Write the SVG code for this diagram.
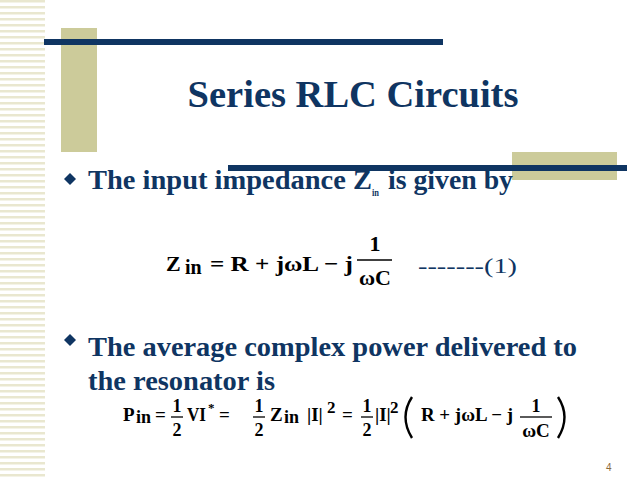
<svg xmlns="http://www.w3.org/2000/svg" width="638" height="479" viewBox="0 0 638 479">
<defs>
<pattern id="st" width="40" height="6" patternUnits="userSpaceOnUse"><rect width="40" height="6" fill="#ffffff"/><rect y="0" width="40" height="2.5" fill="#e9e7cf"/></pattern>
<style>
.t{font-family:"Liberation Serif",serif;font-weight:bold;fill:#0f3562}
.m{font-family:"Liberation Serif",serif;font-weight:bold;fill:#000}
.n{font-family:"Liberation Serif",serif;fill:#0f3562}
</style>
</defs>
<rect width="638" height="479" fill="#fff"/>
<rect x="0" y="0" width="45" height="479" fill="url(#st)"/>
<rect x="61" y="28" width="36" height="124" fill="#cccb9a"/>
<rect x="44" y="39" width="399" height="6" fill="#0f3562"/>
<rect x="512" y="152" width="105" height="28" fill="#cccb9a"/>
<rect x="228" y="165" width="399" height="6" fill="#0f3562"/>
<text class="t" x="353" y="107" font-size="38.5" text-anchor="middle">Series RLC Circuits</text>
<g id="b1">
<path d="M70 173 l6 6 l-6 6 l-6 -6z" fill="#0f3562"/>
<text class="t" x="88" y="189" font-size="27" textLength="284" lengthAdjust="spacingAndGlyphs">The input impedance Z</text>
<text class="t" x="372" y="196" font-size="10" textLength="7" lengthAdjust="spacingAndGlyphs">in</text>
<text class="t" x="388" y="189" font-size="27" textLength="125" lengthAdjust="spacingAndGlyphs">is given by</text>
</g>
<g id="eq1">
<text class="m" x="166" y="271" font-size="22">Z</text>
<text class="m" x="185" y="274" font-size="20">in</text>
<text class="m" x="210" y="271" font-size="22" textLength="143" lengthAdjust="spacingAndGlyphs">= R + jωL − j</text>
<text class="m" x="375" y="251" font-size="22" text-anchor="middle">1</text>
<line x1="357" y1="260" x2="392" y2="260" stroke="#000" stroke-width="1.5"/>
<text class="m" x="375" y="285" font-size="22" text-anchor="middle">ωC</text>
<text class="n" x="418" y="273" font-size="21" textLength="99" lengthAdjust="spacingAndGlyphs">-------(1)</text>
</g>
<g id="b2">
<path d="M70 334 l6 6 l-6 6 l-6 -6z" fill="#0f3562"/>
<text class="t" x="88" y="356" font-size="27" textLength="489" lengthAdjust="spacingAndGlyphs">The average complex power delivered to</text>
<text class="t" x="88" y="390" font-size="27" textLength="187" lengthAdjust="spacingAndGlyphs">the resonator is</text>
</g>
<g id="eq2">
<text class="m" x="123" y="421" font-size="19">P</text>
<text class="m" x="136" y="423" font-size="18">in</text>
<text class="m" x="155" y="421" font-size="19">=</text>
<text class="m" x="177" y="412" font-size="18" text-anchor="middle">1</text>
<line x1="171" y1="417" x2="183" y2="417" stroke="#000" stroke-width="1.3"/>
<text class="m" x="177" y="436" font-size="18" text-anchor="middle">2</text>
<text class="m" x="187" y="421" font-size="19" textLength="19" lengthAdjust="spacingAndGlyphs">VI</text>
<text class="m" x="208" y="412" font-size="13">*</text>
<text class="m" x="219" y="421" font-size="19">=</text>
<text class="m" x="259" y="412" font-size="18" text-anchor="middle">1</text>
<line x1="253" y1="417" x2="265" y2="417" stroke="#000" stroke-width="1.3"/>
<text class="m" x="259" y="436" font-size="18" text-anchor="middle">2</text>
<text class="m" x="270" y="421" font-size="19">Z</text>
<text class="m" x="284" y="423" font-size="18">in</text>
<text class="m" x="307" y="421" font-size="19">|I|</text>
<text class="m" x="327" y="413" font-size="17">2</text>
<text class="m" x="342" y="421" font-size="19">=</text>
<text class="m" x="367" y="412" font-size="18" text-anchor="middle">1</text>
<line x1="361" y1="417" x2="373" y2="417" stroke="#000" stroke-width="1.3"/>
<text class="m" x="367" y="436" font-size="18" text-anchor="middle">2</text>
<text class="m" x="375" y="421" font-size="19">|I|</text>
<text class="m" x="390" y="413" font-size="17">2</text>
<path d="M412 397 q-13 20 0 41" fill="none" stroke="#000" stroke-width="2.4"/>
<text class="m" x="421" y="421" font-size="19" textLength="92" lengthAdjust="spacingAndGlyphs">R + jωL − j</text>
<text class="m" x="536" y="412" font-size="18" text-anchor="middle">1</text>
<line x1="520" y1="417" x2="552" y2="417" stroke="#000" stroke-width="1.3"/>
<text class="m" x="536" y="437" font-size="19" text-anchor="middle">ωC</text>
<path d="M558 397 q13 20 0 41" fill="none" stroke="#000" stroke-width="2.4"/>
</g>
<text x="606" y="471" font-family="Liberation Sans,sans-serif" font-size="10" fill="#8a6a3a">4</text>
</svg>
